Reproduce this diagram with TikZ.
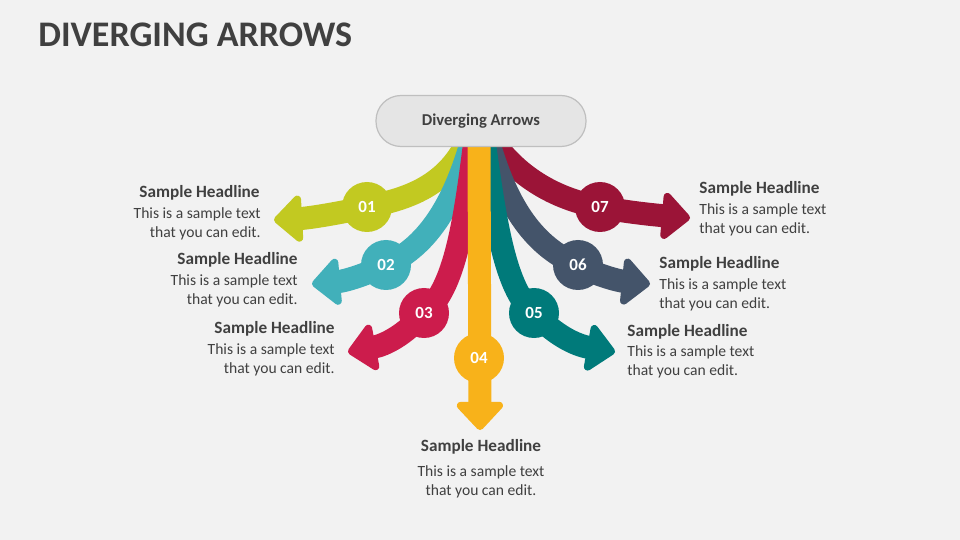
\documentclass[tikz,border=0pt]{standalone}
\usepackage{fontspec}
\setmainfont{Carlito}
\usetikzlibrary{arrows.meta}
\definecolor{bg}{HTML}{F2F2F2}
\definecolor{txt}{HTML}{404040}
\definecolor{cA}{HTML}{C2C921}
\definecolor{cB}{HTML}{41B0BA}
\definecolor{cC}{HTML}{CC1C4C}
\definecolor{cD}{HTML}{F8B21A}
\definecolor{cE}{HTML}{007A7A}
\definecolor{cF}{HTML}{44546A}
\definecolor{cG}{HTML}{9B1437}
\tikzset{
 arr/.style={line width=11.5pt,-{Triangle[length=15pt,width=27pt,round]}},
 num/.style={circle,minimum size=25pt,inner sep=0pt,text=white,font=\bfseries\fontsize{8.5}{10}\selectfont},
 head/.style={font=\bfseries\fontsize{8.6}{9}\selectfont,text=txt,inner sep=0pt},
 body/.style={font=\fontsize{7.8}{9.6}\selectfont,text=txt,inner sep=0pt,align=#1},
}
\begin{document}
\begin{tikzpicture}[x=0.5pt,y=-0.5pt]
\fill[bg] (0,0) rectangle (960,540);
\useasboundingbox (0,0) rectangle (960,540);
\node[anchor=west,font=\bfseries\fontsize{18}{20}\selectfont,text=txt,inner sep=0pt] (title) at (38,35) {DIVERGING ARROWS};
% arrows
\coordinate (t1) at (274,220); \coordinate (t2) at (312,284); \coordinate (t3) at (348,352);
\coordinate (t4) at (480,430); \coordinate (t5) at (615,352); \coordinate (t6) at (650,284); \coordinate (t7) at (690,218);
\draw[arr,cA] (468,140) .. controls (445,190) and (400,200) .. (367,207) .. controls (340,213) and (310,218) .. (t1);
\draw[arr,cG] (492,140) .. controls (520,180) and (560,200) .. (600,207) .. controls (625,212) and (655,215) .. (t7);
\draw[arr,cB] (472,140) .. controls (455,200) and (430,245) .. (386,265) .. controls (365,275) and (345,281) .. (t2);
\draw[arr,cF] (488,140) .. controls (505,200) and (530,245) .. (578,265) .. controls (598,276) and (620,281) .. (t6);
\draw[arr,cC] (475,140) .. controls (465,220) and (455,290) .. (424,313) .. controls (405,335) and (385,345) .. (t3);
\draw[arr,cE] (484,140) .. controls (495,220) and (505,290) .. (534,313) .. controls (555,335) and (575,345) .. (t5);
\draw[arr,cD] (479,140) -- (t4);
\node[num,fill=cA] (n1) at (367,207) {01};
\node[num,fill=cB] (n2) at (386,265) {02};
\node[num,fill=cC] (n3) at (424,313) {03};
\node[num,fill=cD] (n4) at (479,358) {04};
\node[num,fill=cE] (n5) at (534,313) {05};
\node[num,fill=cF] (n6) at (578,265) {06};
\node[num,fill=cG] (n7) at (600,207) {07};
\node[draw=black!25,line width=0.6pt,fill=black!10,rounded corners=12.5pt,minimum width=105pt,minimum height=25.5pt,font=\bfseries\fontsize{8.3}{9}\selectfont,text=txt] (pill) at (481,121) {Diverging Arrows};
% texts
\node[head,anchor=east] (h1) at (260,193) {Sample Headline};
\node[body=right,anchor=north east] (b1) at (261,207) {This is a sample text\\that you can edit.};
\node[head,anchor=east] (h2) at (298,260) {Sample Headline};
\node[body=right,anchor=north east] (b2) at (298,274) {This is a sample text\\that you can edit.};
\node[head,anchor=east] (h3) at (335,329) {Sample Headline};
\node[body=right,anchor=north east] (b3) at (335,343) {This is a sample text\\that you can edit.};
\node[head] (h4) at (481,447) {Sample Headline};
\node[body=center,anchor=north] (b4) at (481,465) {This is a sample text\\that you can edit.};
\node[head,anchor=west] (h5) at (627,332) {Sample Headline};
\node[body=left,anchor=north west] (b5) at (627,345) {This is a sample text\\that you can edit.};
\node[head,anchor=west] (h6) at (659,264) {Sample Headline};
\node[body=left,anchor=north west] (b6) at (659,278) {This is a sample text\\that you can edit.};
\node[head,anchor=west] (h7) at (699,189) {Sample Headline};
\node[body=left,anchor=north west] (b7) at (699,203) {This is a sample text\\that you can edit.};
\end{tikzpicture}
\end{document}
